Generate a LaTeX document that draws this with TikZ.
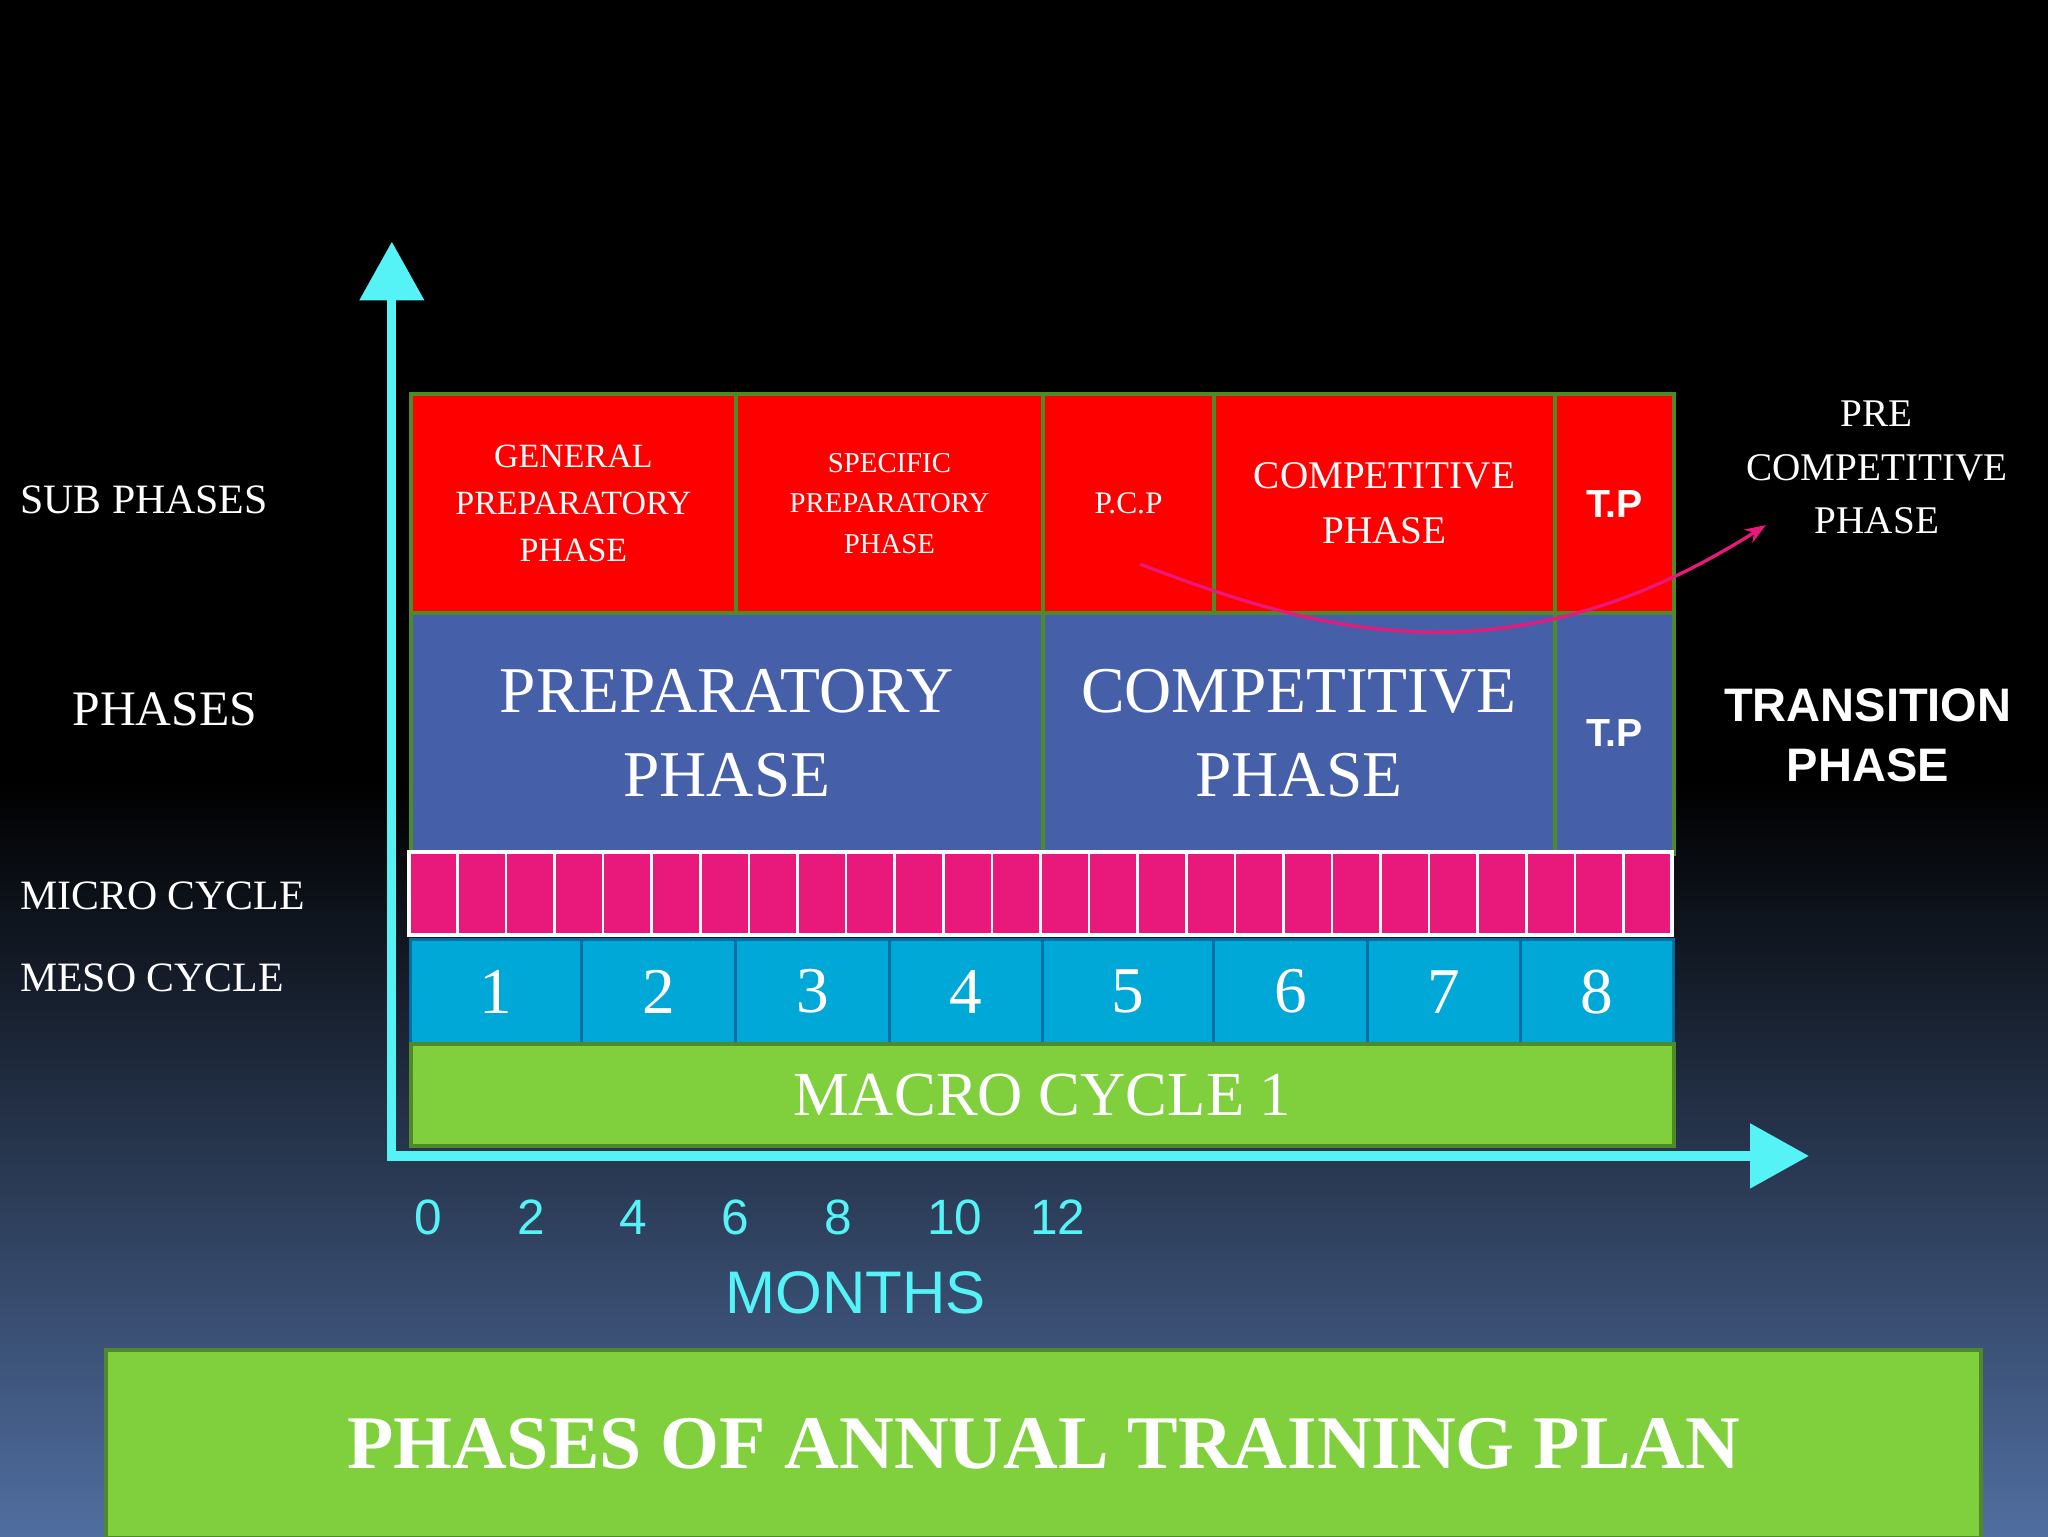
\documentclass[tikz,border=0pt]{standalone}
\usepackage{fontspec}
\setmainfont{Liberation Serif}
\setsansfont{Liberation Sans}
\usetikzlibrary{arrows.meta}
\definecolor{cy}{HTML}{55F2F6}
\definecolor{rd}{HTML}{FF0000}
\definecolor{bl}{HTML}{4560A8}
\definecolor{pk}{HTML}{E8197A}
\definecolor{ms}{HTML}{00A8D8}
\definecolor{gr}{HTML}{7FD03C}
\definecolor{bd}{HTML}{4E8A2A}
\tikzset{
 cell/.style={draw=bd,line width=3pt,text=white,align=center,inner sep=0pt},
 lbl/.style={text=white,anchor=west,font=\fontsize{32}{36}\selectfont},
 axis/.style={cy,line width=7pt,-{Triangle[length=45pt,width=48pt]}},
 mon/.style={text=cy,font=\sffamily\fontsize{38}{40}\selectfont}
}
\begin{document}
\begin{tikzpicture}[x=1pt,y=-1pt]
\fill[black] (0,0) rectangle (1568,600);
\shade[top color=black,bottom color={rgb,255:red,80;green,110;blue,160}] (0,599) rectangle (1568,1176);
\useasboundingbox (0,0) rectangle (1568,1176);
% sub phases
\node[cell,fill=rd,minimum width=249,minimum height=168,anchor=north west,font=\fontsize{26}{36}\selectfont] (g) at (313,300) {GENERAL\\PREPARATORY\\PHASE};
\node[cell,fill=rd,minimum width=235,minimum height=168,anchor=north west,font=\fontsize{22}{31}\selectfont] (s) at (562,300) {SPECIFIC\\PREPARATORY\\PHASE};
\node[cell,fill=rd,minimum width=131,minimum height=168,anchor=north west,font=\fontsize{24}{28}\selectfont] (pcp) at (797,300) {P.C.P};
\node[cell,fill=rd,minimum width=261,minimum height=168,anchor=north west,font=\fontsize{30}{42}\selectfont] (c) at (928,300) {COMPETITIVE\\PHASE};
\node[cell,fill=rd,minimum width=91,minimum height=168,anchor=north west,font=\sffamily\bfseries\fontsize{30}{34}\selectfont] (tp1) at (1189,300) {T.P};
% phases
\node[cell,fill=bl,minimum width=484,minimum height=184,anchor=north west,font=\fontsize{50}{64}\selectfont] (pp) at (313,468) {PREPARATORY\\PHASE};
\node[cell,fill=bl,minimum width=392,minimum height=184,anchor=north west,font=\fontsize{50}{64}\selectfont] (cp) at (797,468) {COMPETITIVE\\PHASE};
\node[cell,fill=bl,minimum width=91,minimum height=184,anchor=north west,font=\sffamily\bfseries\fontsize{30}{34}\selectfont] (tp2) at (1189,468) {T.P};
% micro
\fill[pk] (313,652) rectangle (1280,716);
\foreach \i in {0,...,26} \draw[white,line width=2pt] (313+\i*37.2,652) -- (313+\i*37.2,716);
\draw[white,line width=3pt] (313,652) rectangle (1280,716);
% meso
\foreach \a/\b/\n in {313/444/1,444/562/2,562/680/3,680/797/4,797/928/5,928/1046/6,1046/1163/7,1163/1280/8}
 \node[draw={rgb,255:red,0;green,110;blue,160},line width=2.5pt,fill=ms,text=white,minimum width=\b-\a,minimum height=80,anchor=north west,inner sep=0pt,font=\fontsize{50}{54}\selectfont] (m\n) at (\a,718) {\n};
% macro
\node[cell,fill=gr,minimum width=967,minimum height=78,anchor=north west,font=\fontsize{48}{52}\selectfont] (mac) at (313,798) {MACRO CYCLE 1};
% axes
\coordinate (o) at (300,885);
\coordinate (yt) at (300,185);
\coordinate (xt) at (1385,885);
\draw[axis] (o) -- (yt);
\draw[axis] ([xshift=-3.5]o) -- (xt);
% months
\foreach \x/\t in {328/0,407/2,485/4,563/6,642/8,731/10,810/12} \node[mon] at (\x,932) {\t};
\node[mon,font=\sffamily\fontsize{46}{50}\selectfont] (months) at (655,990) {MONTHS};
% left labels
\node[lbl] (l1) at (12,383) {SUB PHASES};
\node[lbl,font=\fontsize{38}{42}\selectfont] (l2) at (52,543) {PHASES};
\node[lbl] (l3) at (12,686) {MICRO CYCLE};
\node[lbl] (l4) at (12,749) {MESO CYCLE};
% right labels
\node[text=white,align=center,font=\fontsize{30}{41}\selectfont] (pre) at (1437,358) {PRE\\COMPETITIVE\\PHASE};
\node[text=white,align=center,font=\sffamily\bfseries\fontsize{36}{46}\selectfont] (tr) at (1430,563) {TRANSITION\\PHASE};
% curve
\coordinate (cs) at (873,432);
\coordinate (ce) at (1352,402);
\draw[pk,line width=2.5pt,-{Stealth[length=16pt]}] (cs) .. controls (1000,480) and (1150,530) .. (ce);
% banner
\node[draw=bd,line width=3pt,fill=gr,minimum width=1435,minimum height=144,anchor=north west,inner sep=0pt,text=white,font=\bfseries\fontsize{58}{62}\selectfont] (ban) at (80,1032) {PHASES OF ANNUAL TRAINING PLAN};
\end{tikzpicture}
\end{document}
